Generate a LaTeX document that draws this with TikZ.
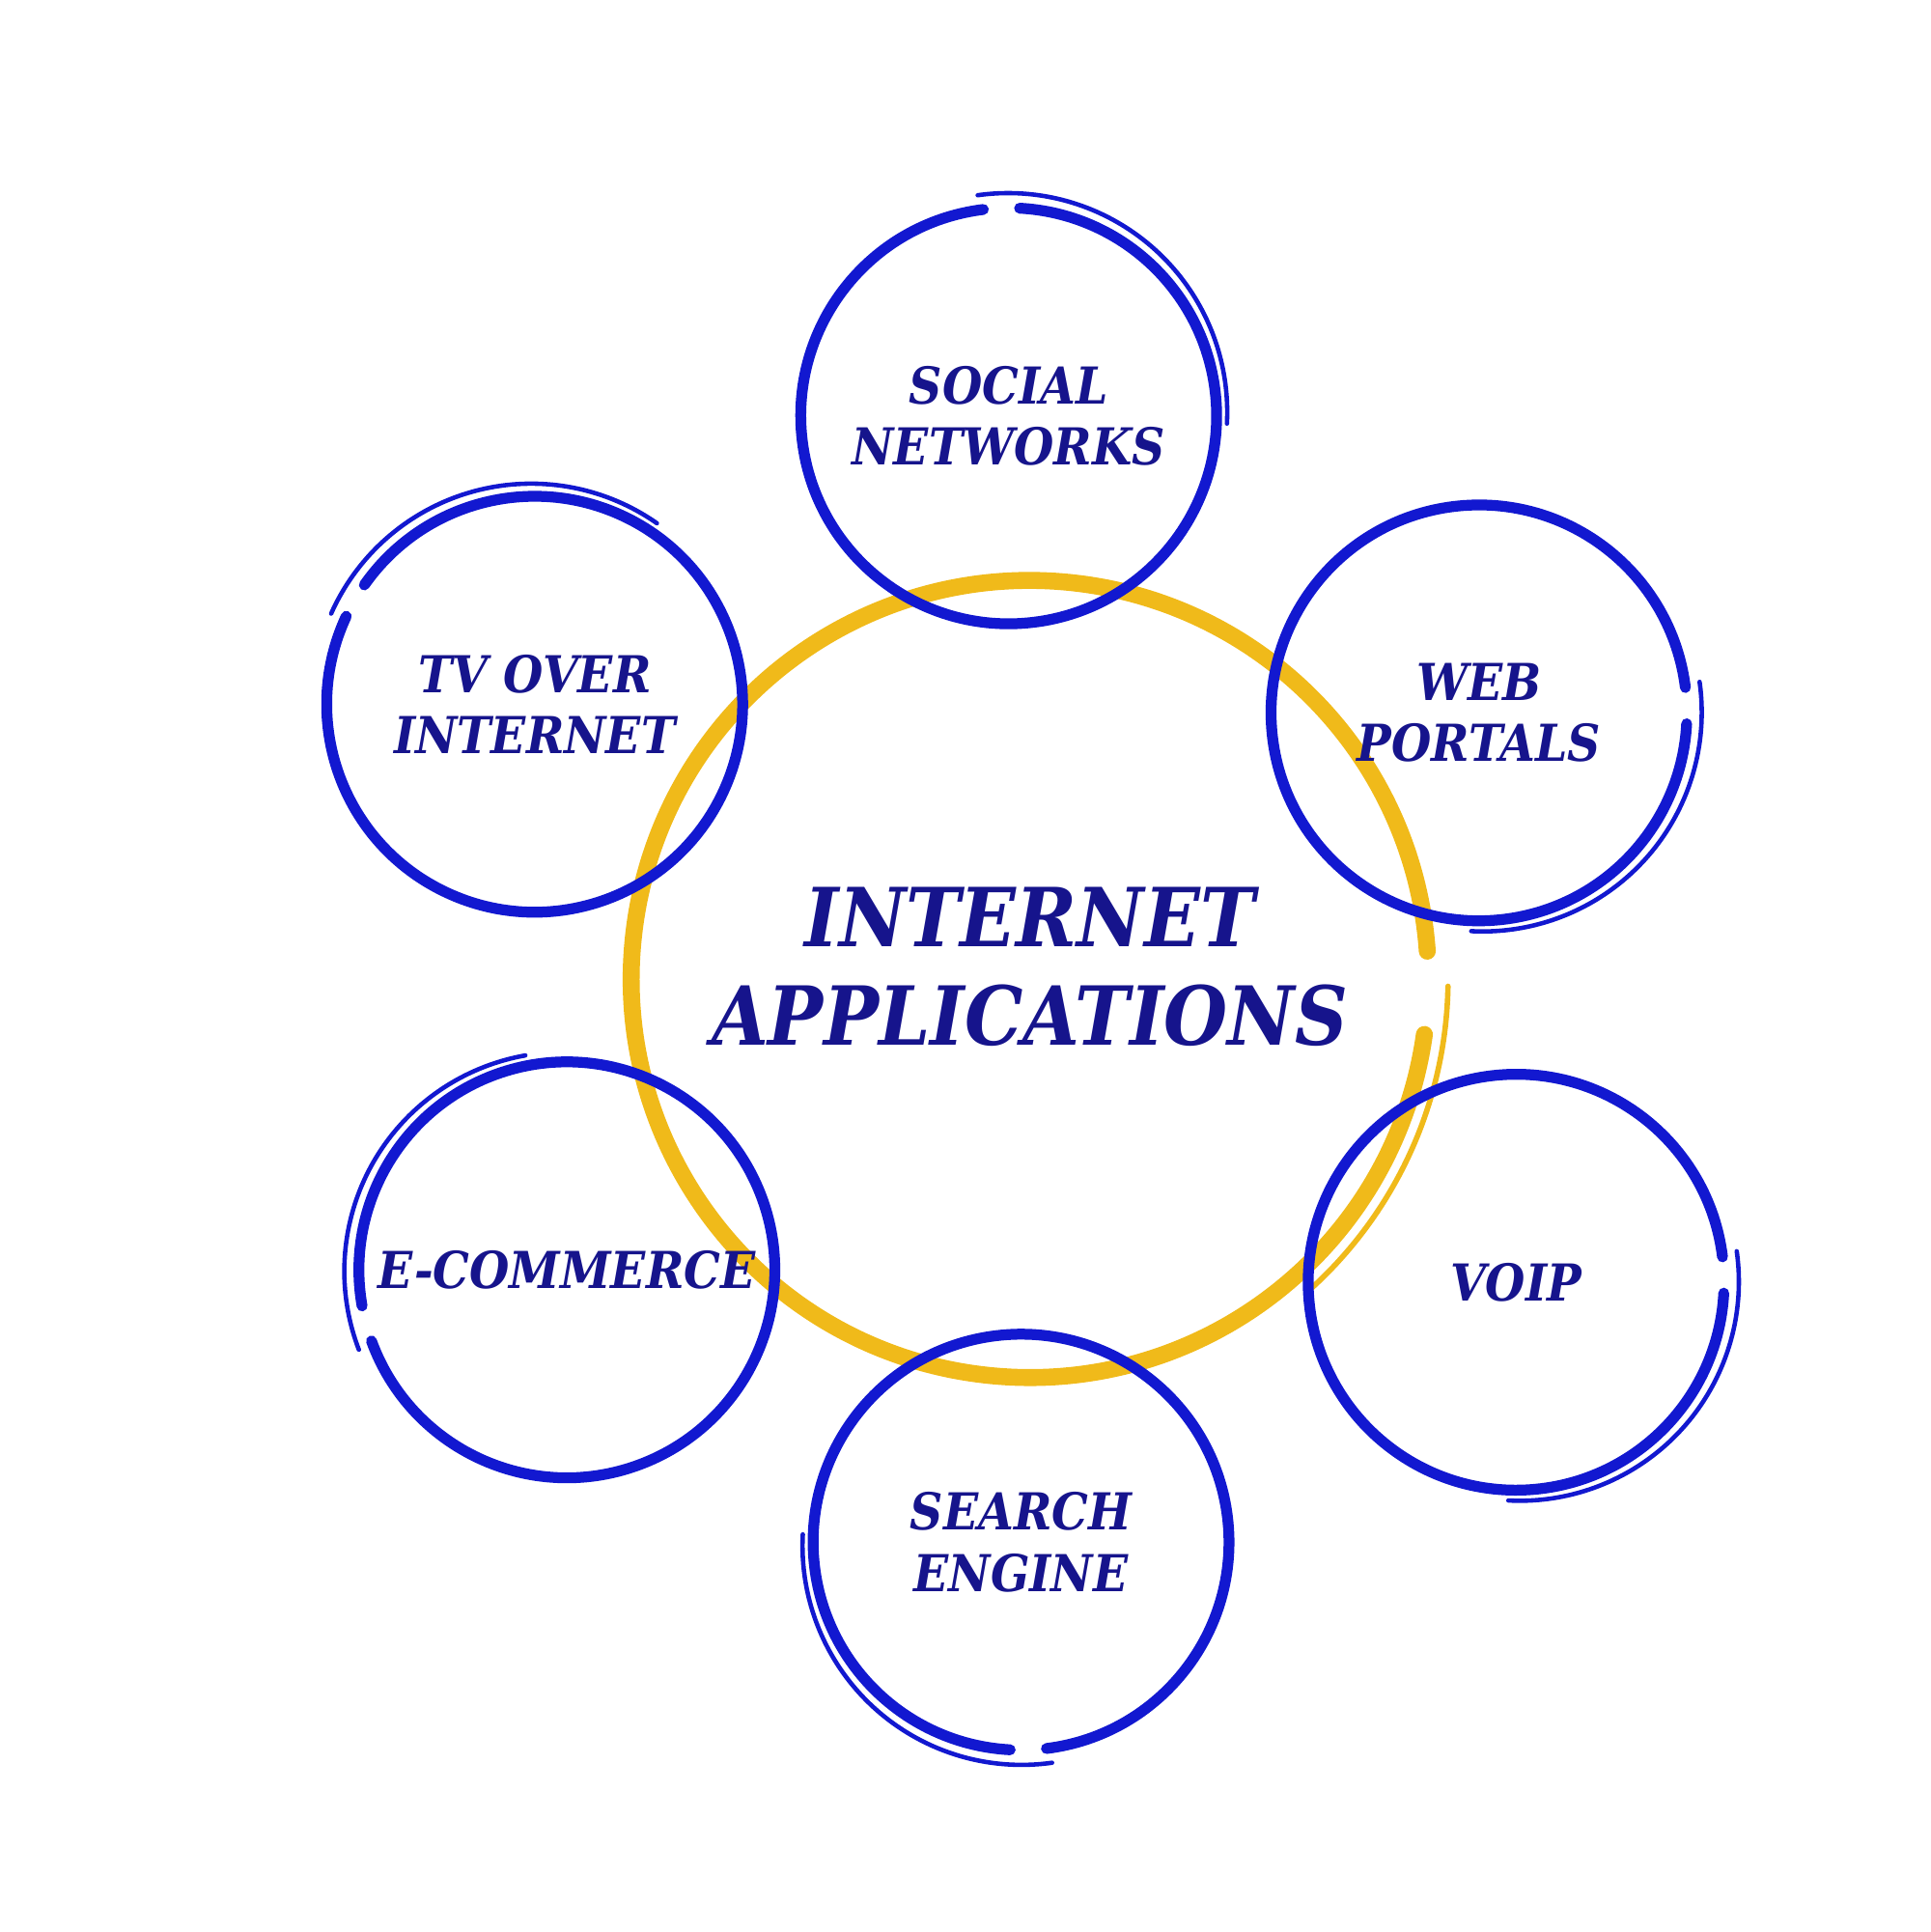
\documentclass[tikz,border=0pt]{standalone}
\usepackage{fontspec}
\setmainfont{DejaVu Serif Condensed}
\definecolor{gold}{HTML}{F0BA1A}
\definecolor{bl}{HTML}{1218D0}
\definecolor{tx}{HTML}{16148C}
\begin{document}
\begin{tikzpicture}[x=0.012821cm,y=0.012821cm,
  ring/.style={draw=bl,line width=3.2pt,line cap=round},
  thin/.style={draw=bl,line width=1.3pt,line cap=round},
  lab/.style={text=tx,align=center,font=\bfseries\itshape\fontsize{15}{18}\selectfont},
  big/.style={text=tx,align=center,font=\bfseries\itshape\fontsize{24}{29}\selectfont}]
\useasboundingbox (0,0) rectangle (1560,1561);
% yellow ring
\draw[draw=gold,line width=5pt,line cap=round] (832,770) ++(-8:322) arc[start angle=-8,end angle=-356,radius=322];
\draw[draw=gold,line width=1.6pt,line cap=round] (832,770) ++(-1:338) arc[start angle=-1,end angle=-48,radius=338];
\node[big] (c) at (832,780) {INTERNET\\APPLICATIONS};
% blue rings: center, gap angle
\foreach \n/\x/\y/\g/\t in {s/815/1225/92/{SOCIAL\\NETWORKS},w/1195/985/2/{WEB\\PORTALS},v/1225/525/2/{VOIP},q/825/315/-88/{SEARCH\\ENGINE},e/458/535/195/{E-COMMERCE},t/432/992/150/{TV OVER\\INTERNET}}{
  \coordinate (\n) at (\x,\y);
  \draw[ring] (\n) ++(\g+5:168) arc[start angle=\g+5,end angle=\g+355,radius=168];
  \draw[thin] (\n) ++(\g+6:180) arc[start angle=\g+6,end angle=\g-95,radius=177];
  \node[lab] (\n l) at (\x,\y) {\t};
}
\end{tikzpicture}
\end{document}
